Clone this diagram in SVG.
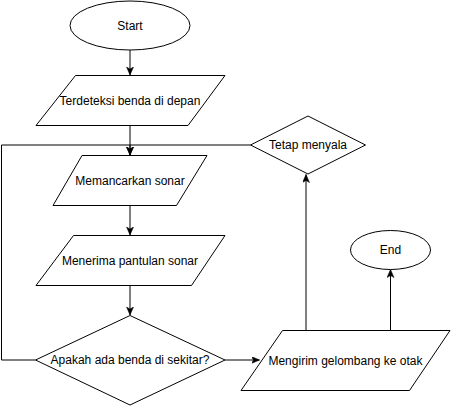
<svg xmlns="http://www.w3.org/2000/svg" width="451" height="406" viewBox="0 0 451 406">
<style>
.shape{fill:#fff;stroke:#000;stroke-width:1}
.edge{fill:none;stroke:#000;stroke-width:1}
text{font-family:"Liberation Sans",Arial,sans-serif;font-size:12px;fill:#000;text-anchor:middle;dominant-baseline:central}
</style>
<defs>
<marker id="arr" markerUnits="userSpaceOnUse" markerWidth="10" markerHeight="10" refX="8" refY="3.5" orient="auto">
<path d="M0,0 L8,3.5 L0,7 L2,3.5 Z" fill="#000" stroke="#000" stroke-width="0.5"/>
</marker>
</defs>
<rect width="451" height="406" fill="#fff"/>
<g id="connectors">
<path class="edge" d="M130,50 V75" marker-end="url(#arr)"/>
<path class="edge" d="M130,125 V155" marker-end="url(#arr)"/>
<path class="edge" d="M250.5,145 H130 V155" marker-end="url(#arr)"/>
<path class="edge" d="M35.5,360 H1.5 V145 H130"/>
<path class="edge" d="M130,205 V235" marker-end="url(#arr)"/>
<path class="edge" d="M130,285 V315" marker-end="url(#arr)"/>
<path class="edge" d="M225,360 H259.5" marker-end="url(#arr)"/>
<path class="edge" d="M306,331 V174.5" marker-end="url(#arr)"/>
<path class="edge" d="M390.5,331 V269.5" marker-end="url(#arr)"/>
</g>
<g id="start">
<ellipse class="shape" cx="130" cy="25.5" rx="60" ry="24.5"/>
<text x="130" y="25.5">Start</text>
</g>
<g id="terdeteksi">
<polygon class="shape" points="75.5,75.5 225,75.5 188,125.5 36,125.5"/>
<text x="130" y="100.5">Terdeteksi benda di depan</text>
</g>
<g id="memancarkan">
<polygon class="shape" points="82,155.5 207,155.5 176.5,205.5 53,205.5"/>
<text x="130" y="180.5">Memancarkan sonar</text>
</g>
<g id="menerima">
<polygon class="shape" points="73.5,235.5 225,235.5 191.5,285.5 36,285.5"/>
<text x="130" y="260.5">Menerima pantulan sonar</text>
</g>
<g id="apakah">
<polygon class="shape" points="130,315.5 225,360 130,405 35.5,360"/>
<text x="130" y="360">Apakah ada benda di sekitar?</text>
</g>
<g id="mengirim">
<polygon class="shape" points="282.5,330.5 450,330.5 409.5,390.5 241,390.5"/>
<text x="345.5" y="360.5">Mengirim gelombang ke otak</text>
</g>
<g id="tetap">
<polygon class="shape" points="308,116 365.5,145 308,174 250.5,145"/>
<text x="308" y="145">Tetap menyala</text>
</g>
<g id="end">
<ellipse class="shape" cx="390.5" cy="250" rx="40" ry="19.5"/>
<text x="390.5" y="250">End</text>
</g>
</svg>
